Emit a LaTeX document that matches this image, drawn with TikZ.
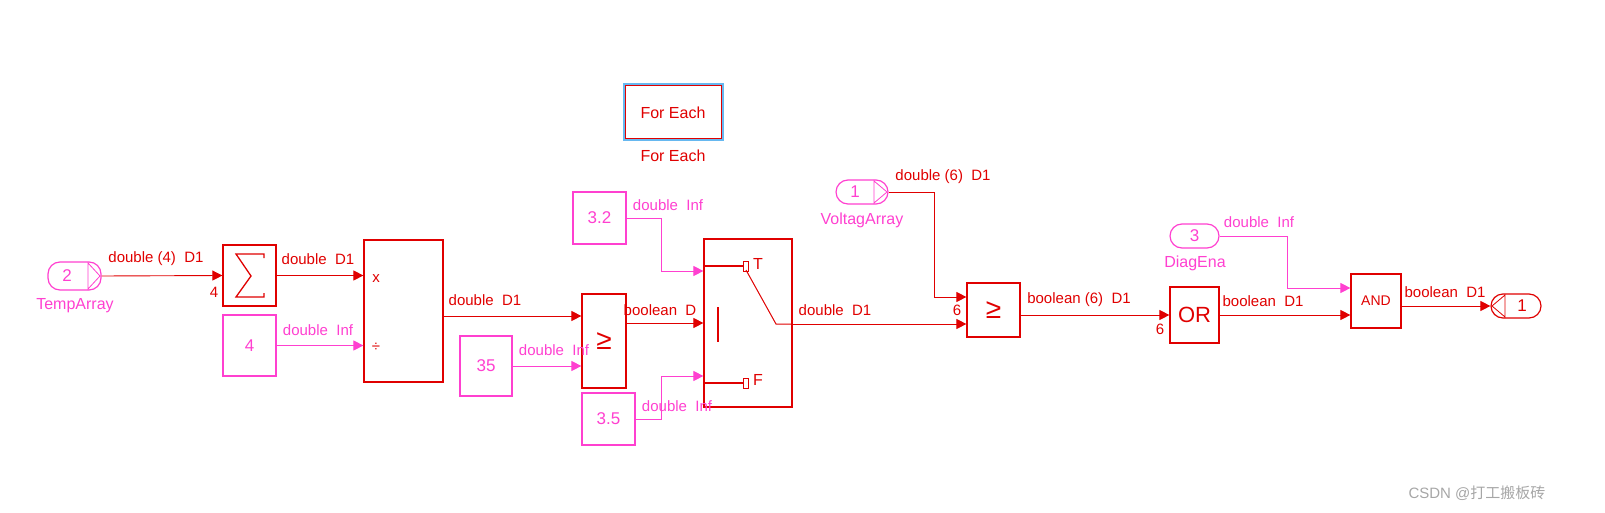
\documentclass[tikz,border=0pt]{standalone}
\usepackage{fontspec}
\setmainfont{Liberation Sans}
\newfontfamily\cjk{Noto Sans CJK SC}
\usetikzlibrary{arrows.meta,calc}
\definecolor{rd}{HTML}{E00000}
\definecolor{pk}{HTML}{FF40D0}
\definecolor{fb}{HTML}{66B8F0}
\tikzset{
 blk/.style={draw=rd,line width=1.2pt,fill=white,inner sep=0,font=\fontsize{17}{19}\selectfont,text=rd},
 cblk/.style={draw=pk,line width=1.2pt,fill=white,inner sep=0,font=\fontsize{17}{19}\selectfont,text=pk},
 pill/.style={rounded corners=12pt,line width=1.2pt,fill=white,inner sep=0},
 lab/.style={font=\fontsize{15}{17}\selectfont,inner sep=0},
 big/.style={font=\fontsize{16}{18}\selectfont},
 rw/.style={draw=rd,line width=0.9pt,-{Triangle[length=10pt,width=10pt]}},
 pw/.style={draw=pk,line width=0.9pt,-{Triangle[length=10pt,width=10pt]}},
}
\begin{document}
\begin{tikzpicture}[x=1pt,y=-1pt]
\useasboundingbox (0,0) rectangle (1605,513);
% blocks
\node[cblk,pill,minimum width=53,minimum height=28] (in2) at (74.5,276) {};
\node[lab,text=pk,font=\fontsize{17}{19}\selectfont] at (67,276) {2};
\draw[pk,line width=0.8pt] (88,262)--(88,290) (88,263)--(100,276)--(88,289);
\node[lab,big,text=pk] at (75,306) {TempArray};
\node[blk,minimum width=53,minimum height=61] (sum) at (249.5,275.5) {};
\draw[rd,line width=1.3pt] (264,258)--(264,254)--(236,254)--(251,276)--(236,297)--(264,297)--(264,293);
\node[cblk,minimum width=53,minimum height=61] (c4) at (249.5,345.5) {4};
\node[blk,minimum width=79,minimum height=142] (prod) at (403.5,311) {};
\node[lab,text=rd] at (376,279) {x};
\node[lab,text=rd] at (376,347) {÷};
\node[cblk,minimum width=52,minimum height=60] (c35) at (486,366) {35};
\node[blk,minimum width=44,minimum height=94,font=\fontsize{28}{28}\selectfont] (cmp) at (604,341) {≥};
\node[cblk,minimum width=53,minimum height=52] (c32) at (599.5,218) {3.2};
\node[cblk,minimum width=53,minimum height=52] (c35b) at (608.5,419) {3.5};
\node[blk,minimum width=88,minimum height=168] (sw) at (748,323) {};
\node[cblk,pill,minimum width=52,minimum height=24] (in1) at (862,192) {};
\node[lab,text=pk,font=\fontsize{17}{19}\selectfont] at (855,192) {1};
\draw[pk,line width=0.8pt] (874,180)--(874,204) (874,181)--(887,192)--(874,203);
\node[lab,big,text=pk] at (862,220) {VoltagArray};
\node[blk,minimum width=53,minimum height=54,font=\fontsize{28}{28}\selectfont] (ge) at (993.5,310) {≥};
\node[blk,minimum width=49,minimum height=56,font=\fontsize{22}{22}\selectfont] (or) at (1194.5,315) {OR};
\node[cblk,pill,minimum width=49,minimum height=24] (in3) at (1194.5,236) {3};
\node[lab,big,text=pk] at (1195,263) {DiagEna};
\node[blk,minimum width=50,minimum height=54,font=\fontsize{14}{16}\selectfont] (and) at (1376,301) {AND};
\node[blk,pill,minimum width=50,minimum height=24] (out1) at (1516,306) {};
\node[lab,text=rd,font=\fontsize{17}{19}\selectfont] at (1522,306) {1};
\draw[rd,line width=0.8pt] (1505,294)--(1505,318) (1505,295)--(1492,306)--(1505,317);
% For Each
\draw[fb,line width=3pt] (624,85) rectangle (722,140);
\node[blk,minimum width=96,minimum height=53,line width=1pt,font=\fontsize{16}{18}\selectfont] (fe) at (673,112.5) {For Each};
\node[lab,big,text=rd] at (673,156) {For Each};
% switch internals
\draw[rd,line width=1.4pt] (sw.west |- 0,266) -- (743,266);
\draw[rd,line width=1pt] (743,261) rectangle (748,271);
\node[lab,big,text=rd] at (758,264) {T};
\draw[rd,line width=1.4pt] (sw.west |- 0,383) -- (743,383);
\draw[rd,line width=1pt] (743,378) rectangle (748,388);
\node[lab,big,text=rd] at (758,380) {F};
\draw[rd,line width=1.4pt] (718,307) -- (718,342);
\draw[rd,line width=1pt] (746,270) -- (776,324) -- (sw.east |- 0,324);
% connectors
\draw[rw] (in2.east) -- (sum.west);
\node[lab,text=rd] at (156,259) {double (4)\ \ D1};
\node[lab,text=rd] at (214,292) {4};
\draw[rw] (sum.east) -- (sum.east -| prod.west);
\node[lab,text=rd] at (318,259) {double\ \ D1};
\draw[pw] (c4.east) -- (c4.east -| prod.west);
\node[lab,text=pk] at (318,330) {double\ \ Inf};
\draw[rw] (prod.east |- 0,316) -- (cmp.west |- 0,316);
\node[lab,text=rd] at (485,300) {double\ \ D1};
\draw[pw] (c35.east) -- (c35.east -| cmp.west);
\node[lab,text=pk] at (554,350) {double\ \ Inf};
\draw[rw] (cmp.east |- 0,323) -- (sw.west |- 0,323);
\node[lab,text=rd] at (660,310) {boolean\ \ D};
\draw[pw] (c32.east) -- (661,218) -- (661,271) -- (sw.west |- 0,271);
\node[lab,text=pk] at (668,205) {double\ \ Inf};
\draw[pw] (c35b.east) -- (661,419) -- (661,376) -- (sw.west |- 0,376);
\node[lab,text=pk] at (677,406) {double\ \ Inf};
\draw[rw] (sw.east |- 0,324) -- (ge.west |- 0,324);
\node[lab,text=rd] at (835,310) {double\ \ D1};
\draw[rw] (in1.east) -- (934,192) -- (934,297) -- (ge.west |- 0,297);
\node[lab,text=rd] at (943,177) {double (6)\ \ D1};
\node[lab,text=rd] at (957,310) {6};
\draw[rw] (ge.east |- 0,315) -- (or.west);
\node[lab,text=rd] at (1079,300) {boolean (6)\ \ D1};
\node[lab,text=rd] at (1160,329) {6};
\draw[pw] (in3.east) -- (1287,236) -- (1287,288) -- (and.west |- 0,288);
\node[lab,text=pk] at (1259,222) {double\ \ Inf};
\draw[rw] (or.east) -- (or.east -| and.west);
\node[lab,text=rd] at (1263,301) {boolean\ \ D1};
\draw[rw] (and.east |- 0,306) -- (out1.west);
\node[lab,text=rd] at (1445,292) {boolean\ \ D1};
\node[lab,text=gray!70,font=\fontsize{15}{17}\selectfont] at (1477,493) {CSDN @{\cjk 打工搬板砖}};
\end{tikzpicture}
\end{document}
